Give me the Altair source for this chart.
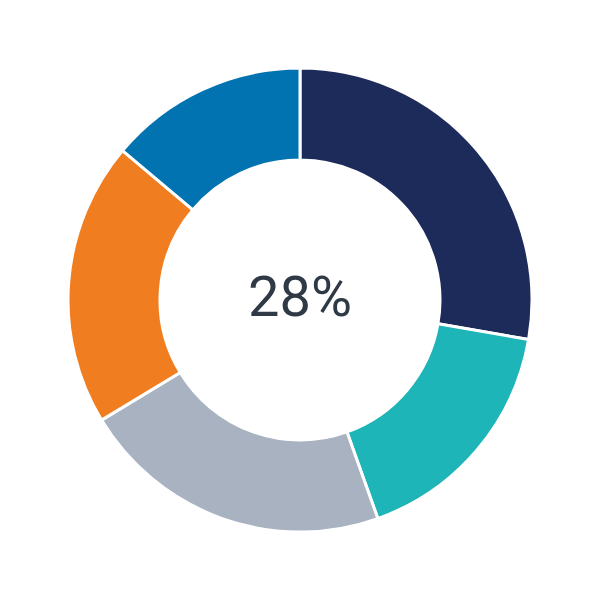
import pandas as pd
import altair as alt

# slice data, clockwise from 12 o'clock
segments = ["A", "B", "C", "D", "E"]
shares = [28, 17, 22, 20, 14]
colors = ["#1d2b5b", "#1db5b7", "#a8b2c1", "#f07d20", "#0073b0"]
center_label = ["28%"]

df = pd.DataFrame({"segment": segments, "share": shares, "idx": range(len(segments))})

donut = alt.Chart(df).mark_arc(
    outerRadius=232, innerRadius=140, stroke="white", strokeWidth=3
).encode(
    theta=alt.Theta("share:Q", stack=True),
    color=alt.Color("segment:N", scale=alt.Scale(domain=segments, range=colors), legend=None),
    order=alt.Order("idx:Q"),
)

label = alt.Chart(pd.DataFrame({"t": center_label})).mark_text(
    font="Roboto", fontSize=56, color="#2f3a46", baseline="middle", align="center", dy=-1
).encode(text="t:N")

chart = (donut + label).properties(
    width=584, height=584, padding=0, autosize=alt.AutoSizeParams(type="none")
).configure_view(stroke=None)

chart.save("out.html", embed_options={"renderer": "svg", "actions": False})
